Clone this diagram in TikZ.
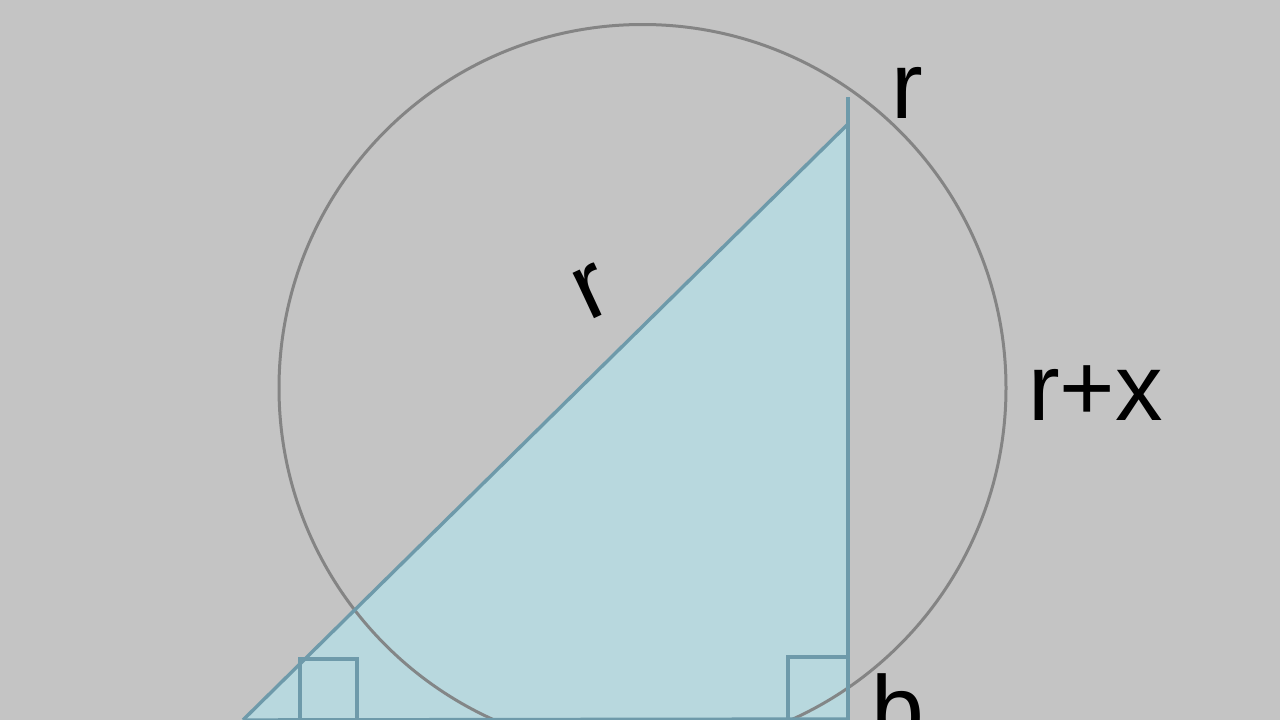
\documentclass[tikz,border=0pt]{standalone}
\usepackage{fontspec}
\setmainfont{Liberation Sans}
\definecolor{bg}{HTML}{C4C4C4}
\definecolor{tri}{HTML}{B8D8DE}
\definecolor{edge}{HTML}{6E9AAA}
\definecolor{circ}{HTML}{7E7E7E}
\tikzset{
  edgeline/.style={draw=edge, line width=3.4pt},
  circline/.style={draw=circ, line width=3pt, draw opacity=0.9},
  lbl/.style={font=\fontsize{95}{95}\selectfont, text=black, inner sep=0pt}
}
\begin{document}
\begin{tikzpicture}[x=1pt,y=-1pt]
\fill[bg] (0,0) rectangle (1280,720);
\useasboundingbox (0,0) rectangle (1280,720);
\clip (0,0) rectangle (1280,720);
\coordinate (A) at (848,124);
\coordinate (B) at (243,720);
\coordinate (C) at (848,720);
\coordinate (T) at (848,97);
\coordinate (O) at (642.5,388);
% triangle fill
\fill[tri] (A) -- (B) -- (C) -- cycle;
% circle
\draw[circline] (O) circle (363.5);
% triangle edges
\draw[edgeline] (B) -- (A);
\draw[edgeline] (T) -- (C);
\draw[edgeline] (B) -- (848,719);
% right-angle marks
\draw[edgeline] (300,722) -- (300,659) -- (357,659) -- (357,722);
\draw[edgeline] (788,722) -- (788,657) -- (848,657);
% labels
\node[lbl, anchor=base west] (lr1) at (891,118) {r};
\node[lbl, rotate=25] (lr2) at (592,292) {r};
\node[lbl, anchor=base west] (lrx) at (1028,420) {r+x};
\node[lbl, anchor=base west] (lb) at (871,742) {b};
\end{tikzpicture}
\end{document}
